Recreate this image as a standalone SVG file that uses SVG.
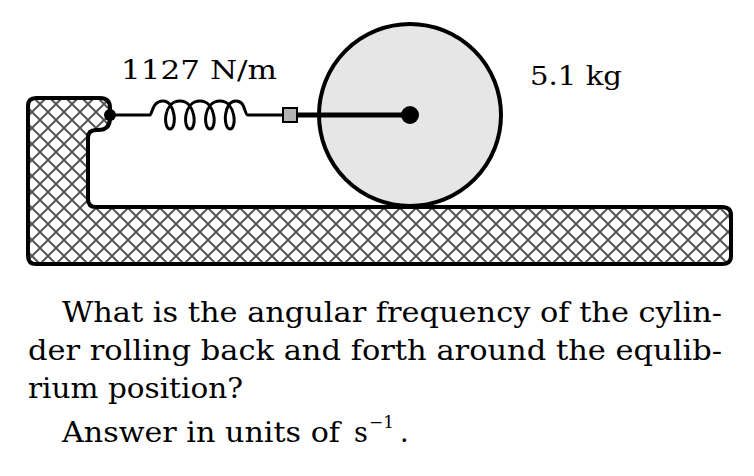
<svg xmlns="http://www.w3.org/2000/svg" width="754" height="476" viewBox="0 0 754 476">
<style>
text{font-family:"DejaVu Serif","Liberation Serif",serif;fill:#000}
.l{font-size:26px}
.q{font-size:27px}
.k{stroke:#000;fill:none;stroke-linecap:round;stroke-linejoin:round}
</style>
<defs>
<pattern id="hatch" width="16" height="16" patternUnits="userSpaceOnUse">
<path d="M-1 -1 L17 17 M17 -1 L-1 17" stroke="#555" stroke-width="2"/>
</pattern>
</defs>
<rect width="754" height="476" fill="#fff"/>
<g id="ground">
<path d="M36 98 H100 Q110 98 110 108 V118 Q110 130 98 130 H96 Q88 130 88 138 V199 Q88 207 96 207 H722 Q731 207 731 215 V256 Q731 264 722 264 H36 Q28 264 28 256 V106 Q28 98 36 98 Z" fill="url(#hatch)" stroke="#000" stroke-width="4"/>
</g>
<g id="cylinder">
<circle cx="410" cy="115" r="91" fill="#e6e6e6" stroke="#000" stroke-width="4"/>
</g>
<g id="connectors">
<path class="k" stroke-width="3" d="M110 115 H150 C152 115 152 101 163 101 C176 101 177 129 170 129 C163 129 163 101 180 101 C196 101 197 129 190 129 C183 129 183 101 200 101 C216 101 217 129 210 129 C203 129 203 101 220 101 C236 101 237 129 230 129 C223 129 223 101 236 101 C246 101 244 115 248 115 H284"/>
<line x1="297" y1="115" x2="410" y2="115" stroke="#000" stroke-width="5"/>
<rect x="283" y="108" width="14" height="14" fill="#b3b3b3" stroke="#000" stroke-width="2"/>
<circle cx="110" cy="115" r="6" fill="#000"/>
<circle cx="410" cy="115" r="9" fill="#000"/>
</g>
<g id="labels">
<text class="l" x="121" y="79" textLength="156" lengthAdjust="spacingAndGlyphs">1127 N/m</text>
<text class="l" x="530" y="85" textLength="92" lengthAdjust="spacingAndGlyphs">5.1 kg</text>
<text class="q" x="62" y="322" textLength="660" lengthAdjust="spacingAndGlyphs">What is the angular frequency of the cylin-</text>
<text class="q" x="28" y="360" textLength="694" lengthAdjust="spacingAndGlyphs">der rolling back and forth around the equlib-</text>
<text class="q" x="28" y="398" textLength="215" lengthAdjust="spacingAndGlyphs">rium position?</text>
<text class="q" x="62" y="442" textLength="278" lengthAdjust="spacingAndGlyphs">Answer in units of</text>
<text class="q" x="354" y="442">s</text>
<text x="369" y="428" font-size="17">−1</text>
<text class="q" x="400" y="442">.</text>
</g>
</svg>
